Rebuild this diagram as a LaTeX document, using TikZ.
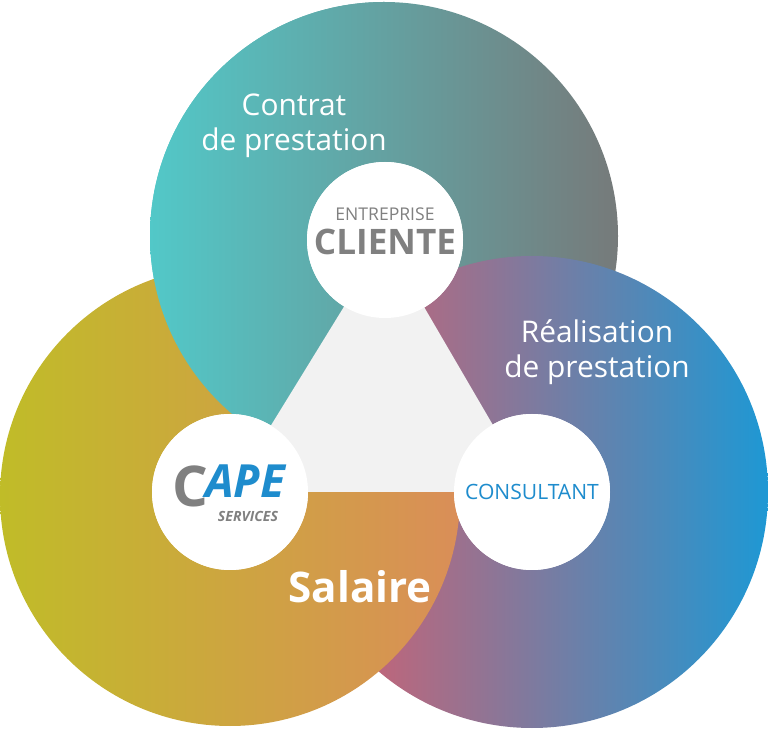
\documentclass[tikz,border=0pt]{standalone}
\usepackage{fontspec}
\setmainfont{Open Sans}
\definecolor{tealL}{RGB}{82,200,200}
\definecolor{tealR}{RGB}{118,122,122}
\definecolor{pinkL}{RGB}{222,92,105}
\definecolor{blueR}{RGB}{30,152,212}
\definecolor{oliveL}{RGB}{192,188,40}
\definecolor{orangeR}{RGB}{218,142,88}
\definecolor{capeblue}{RGB}{30,140,205}
\begin{document}
\begin{tikzpicture}[x=0.02cm,y=-0.02cm]
\tikzset{
  hub/.style={circle, fill=white, minimum size=156*0.02cm, inner sep=0pt},
  lbl/.style={text=white, align=center, font=\fontsize{17}{20}\selectfont},
  topdisc/.style={left color=tealL, right color=tealR},
}
\useasboundingbox (0,0) rectangle (768,729);
% three big circles
\shade[topdisc] (384,236) circle (234);
\shade[left color=pinkL, right color=blueR] (532,492) circle (236);
\shade[left color=oliveL, right color=orangeR] (230,496) circle (230);
\begin{scope}
\clip (0,0) rectangle (384,729);
\shade[topdisc] (384,236) circle (234);
\end{scope}
% triangle
\node[hub] (cli) at (385,240) {};
\node[hub] (cape) at (230,492) {};
\node[hub] (cons) at (532,492) {};
\fill[gray!10] (cli.center) -- (cape.center) -- (cons.center) -- cycle;
\node[hub] at (cli) {};
\node[hub] at (cape) {};
\node[hub] at (cons) {};
% texts
\node[text=gray, font=\fontsize{10}{12}\selectfont] at (385,214) {ENTREPRISE};
\node[text=gray, font=\bfseries\fontsize{20}{22}\selectfont] at (385,242) {CLIENTE};
\node[text=capeblue, font=\fontsize{12}{14}\selectfont] at (532,492) {CONSULTANT};
\node[text=gray, font=\bfseries\fontsize{32}{34}\selectfont] at (190,486) {C};
\node[text=capeblue, font=\bfseries\itshape\fontsize{26}{28}\selectfont] at (245,481) {APE};
\node[text=gray, font=\bfseries\itshape\fontsize{8}{9}\selectfont] at (248,516) {SERVICES};
\node[lbl] at (294,126) {Contrat\\de prestation};
\node[lbl] at (597,352) {Réalisation\\de prestation};
\node[lbl, font=\bfseries\fontsize{24}{26}\selectfont] at (360,587) {Salaire};
\end{tikzpicture}
\end{document}
